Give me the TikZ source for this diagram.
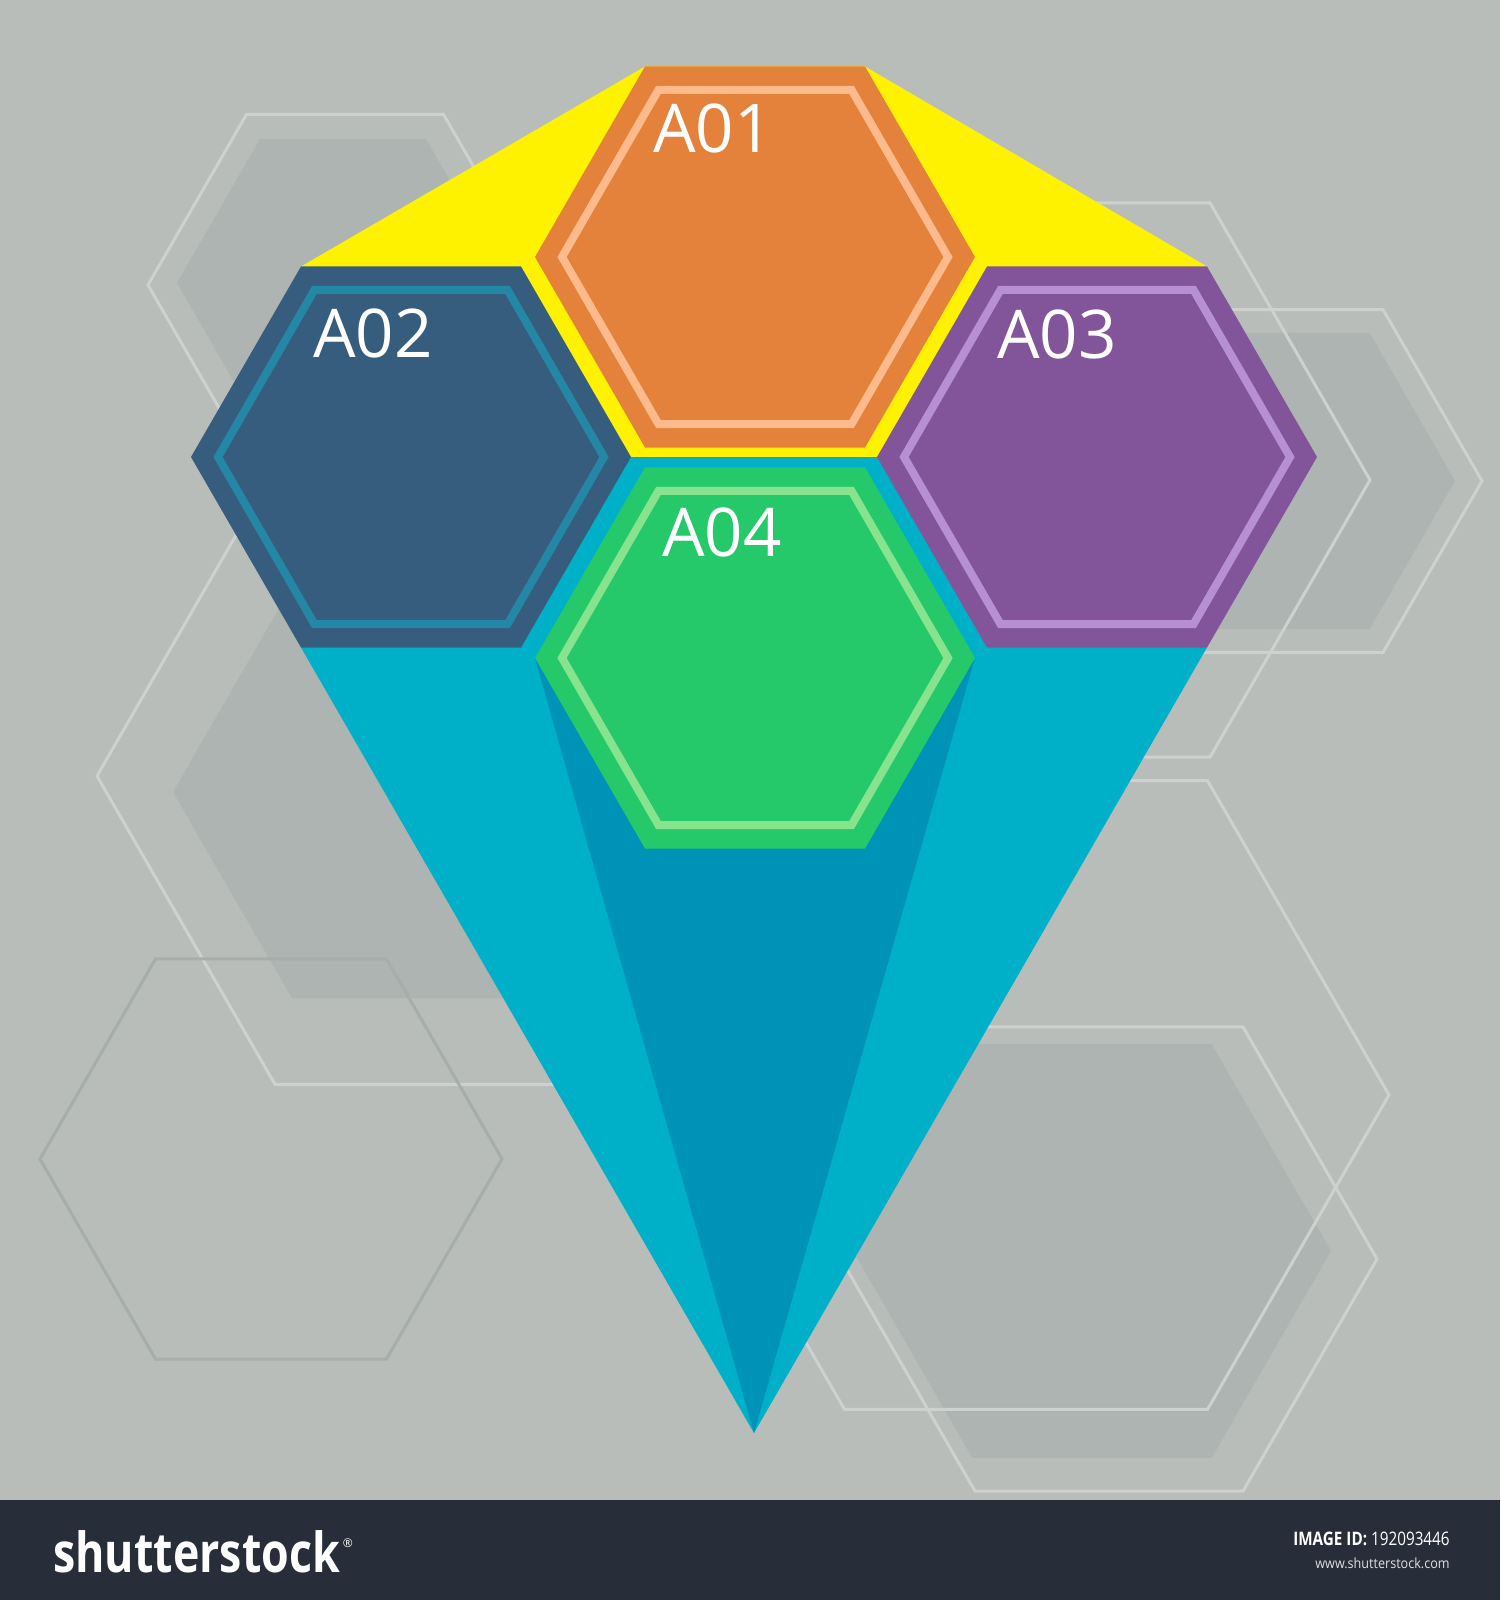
\documentclass[tikz,border=0pt]{standalone}
\usepackage{fontspec}
\setmainfont{Open Sans}
\definecolor{bg}{HTML}{B8BDBA}
\definecolor{bghexc}{HTML}{ADB4B1}
\definecolor{bglinec}{HTML}{CDD1CF}
\definecolor{bgdarkc}{HTML}{A6ADAA}
\definecolor{yel}{HTML}{FFF200}
\definecolor{cyanl}{HTML}{00B0C8}
\definecolor{cyand}{HTML}{0093B8}
\definecolor{orF}{HTML}{E4813A}
\definecolor{orL}{HTML}{FDBA8C}
\definecolor{nvF}{HTML}{365D7D}
\definecolor{nvL}{HTML}{2487A6}
\definecolor{puF}{HTML}{82559A}
\definecolor{puL}{HTML}{B690D2}
\definecolor{grF}{HTML}{25C96A}
\definecolor{grL}{HTML}{88E38F}
\definecolor{foot}{HTML}{282E39}
\tikzset{
  hexp/.style n args={3}{insert path={(#1,#2) +(0:#3) -- +(60:#3) -- +(120:#3) -- +(180:#3) -- +(240:#3) -- +(300:#3) -- cycle}},
  bghex/.style={fill=bghexc},
  bgline/.style={draw=bglinec, line width=1.5pt, line join=miter},
  bgdark/.style={draw=bgdarkc, line width=1.5pt, line join=miter},
  innerline/.style={line width=4pt, line join=miter},
  hexlabel/.style={anchor=base west, inner sep=0pt, text=white, font=\fontsize{33.6pt}{40pt}\selectfont},
}
\begin{document}
\begin{tikzpicture}[x=0.5pt,y=-0.5pt]
\useasboundingbox (0,0) rectangle (1500,1600);
\fill[bg] (0,0) rectangle (1500,1500);
% background hexagons
\fill[bghex, hexp={343}{283}{166}];
\fill[bghex, hexp={411}{792}{238}];
\fill[bghex, hexp={1284}{481}{171}];
\fill[bghex, hexp={1092}{1251}{239}];
\draw[bgline, hexp={345}{285}{197}];
\draw[bgline, hexp={453}{776}{356}];
\draw[bgline, hexp={1050}{480}{320}];
\draw[bgline, hexp={1284}{481}{198}];
\draw[bgline, hexp={1026}{1095}{363}];
\draw[bgline, hexp={1109}{1259}{268}];
\draw[bgdark, hexp={271}{1159}{231}];
% diamond body
\fill[yel] (301,266.5) -- (645,66.5) -- (865,66.5) -- (1207,266.5) -- (1207,457) -- (301,457) -- cycle;
\fill[cyanl] (301,457) -- (1207,457) -- (1207,647.5) -- (754,1433) -- (301,647.5) -- cycle;
\fill[cyand] (535,658) -- (975,658) -- (754,1433) -- cycle;
% hexagons
\fill[orF, hexp={755}{257}{220}];
\draw[orL, innerline, hexp={755}{257}{193}];
\fill[nvF, hexp={411}{457}{220}];
\draw[nvL, innerline, hexp={411}{457}{193}];
\fill[puF, hexp={1097}{457}{220}];
\draw[puL, innerline, hexp={1097}{457}{193}];
\fill[grF, hexp={755}{658}{220}];
\draw[grL, innerline, hexp={755}{658}{193}];
% labels
\node[hexlabel] (a01) at (653,153) {A01};
\node[hexlabel] (a02) at (313,357) {A02};
\node[hexlabel] (a03) at (997,358) {A03};
\node[hexlabel] (a04) at (662,556) {A04};
% footer
\fill[foot] (0,1500) rectangle (1500,1600);
\node[anchor=base west, inner sep=0pt, text=white, font=\bfseries\fontsize{27.6pt}{30pt}\selectfont] (logo) at (53,1572) {\scalebox{0.81}[1]{shutterstock}};
\node[anchor=south west, inner sep=0pt, text=white, font=\fontsize{6pt}{6pt}\selectfont] (reg) at (logo.north east) [yshift=-9pt, xshift=1pt] {\textregistered};
\node[anchor=base east, inner sep=0pt, text=white, font=\fontsize{9.3pt}{11pt}\selectfont] (imgid) at (1450,1545) {\scalebox{0.82}[1]{\textbf{IMAGE ID:} 192093446}};
\node[anchor=base east, inner sep=0pt, text=white!85!foot, font=\fontsize{7pt}{9pt}\selectfont] (url) at (1450,1568) {\scalebox{0.9}[1]{www.shutterstock.com}};
\end{tikzpicture}
\end{document}
